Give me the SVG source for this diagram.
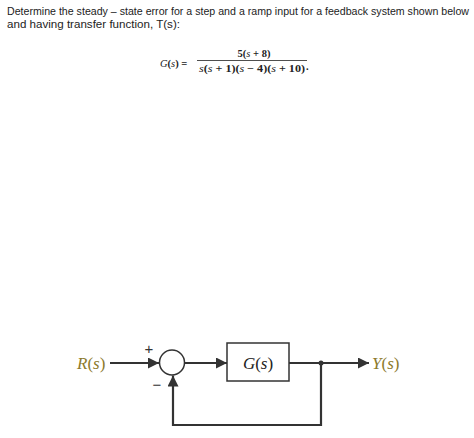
<svg xmlns="http://www.w3.org/2000/svg" width="474" height="438" viewBox="0 0 474 438">
<style>
.t{font-family:"Liberation Sans",Arial,sans-serif;font-size:10.5px;fill:#222}
.m{font-family:"Liberation Serif",serif;font-size:10.5px;fill:#222;font-weight:bold}
.mi{font-style:italic;font-weight:normal}
.lbl{font-family:"Liberation Serif",serif;font-size:17px;fill:#8c7a2c}
.ln{stroke:#333;stroke-width:2.2;fill:none}
.sg{font-family:"Liberation Sans",sans-serif;font-size:15px;fill:#333}
</style>
<defs>
<marker id="ah" viewBox="0 0 10 10" refX="10" refY="5" markerWidth="5" markerHeight="5" orient="auto" markerUnits="strokeWidth">
<path d="M0,0 L10,5 L0,10 z" fill="#333"/>
</marker>
</defs>
<rect width="474" height="438" fill="#fff"/>
<text class="t" x="7" y="14.5" textLength="462" lengthAdjust="spacingAndGlyphs">Determine the steady – state error for a step and a ramp input for a feedback system shown below</text>
<text class="t" x="7" y="27.5" textLength="173" lengthAdjust="spacingAndGlyphs">and having transfer function, T(s):</text>
<g id="formula">
<text class="m" x="160" y="67"><tspan class="mi">G</tspan>(<tspan class="mi">s</tspan>) =</text>
<text class="m" x="254" y="57" text-anchor="middle">5(<tspan class="mi">s</tspan> + 8)</text>
<line x1="197" y1="60.5" x2="307" y2="60.5" stroke="#222" stroke-width="0.8"/>
<text class="m" x="199" y="72" textLength="106" lengthAdjust="spacingAndGlyphs"><tspan class="mi">s</tspan>(<tspan class="mi">s</tspan> + 1)(<tspan class="mi">s</tspan> − 4)(<tspan class="mi">s</tspan> + 10)</text>
<text class="m" x="306" y="70">.</text>
</g>
<g id="R">
<text class="lbl" x="77" y="368.5"><tspan font-style="italic">R</tspan>(<tspan font-style="italic">s</tspan>)</text>
</g>
<g id="sum">
<circle cx="172" cy="362.5" r="12.5" fill="#fff" stroke="#333" stroke-width="1.5"/>
<text class="sg" x="149" y="354" text-anchor="middle">+</text>
<text class="sg" x="157" y="390" text-anchor="middle">−</text>
</g>
<g id="G">
<rect x="227" y="343" width="62" height="38" fill="#fff" stroke="#333" stroke-width="1.5"/>
<text class="lbl" x="258" y="368.5" text-anchor="middle" style="fill:#222"><tspan font-style="italic">G</tspan>(<tspan font-style="italic">s</tspan>)</text>
</g>
<g id="Y">
<text class="lbl" x="372" y="368.5"><tspan font-style="italic">Y</tspan>(<tspan font-style="italic">s</tspan>)</text>
</g>
<g id="connectors">
<line class="ln" x1="110" y1="363" x2="159" y2="363" marker-end="url(#ah)"/>
<line class="ln" x1="184.5" y1="363" x2="227" y2="363" marker-end="url(#ah)"/>
<line class="ln" x1="289" y1="363" x2="369" y2="363" marker-end="url(#ah)"/>
<polyline class="ln" points="321,363 321,425 173,425 173,375.5" marker-end="url(#ah)"/>
<circle cx="321" cy="363" r="2.5" fill="#333"/>
</g>
</svg>
